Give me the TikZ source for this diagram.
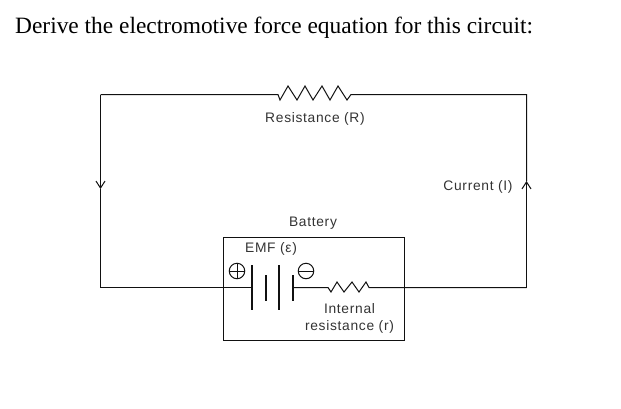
\documentclass[tikz,border=0pt]{standalone}
\usepackage{fontspec}
\setmainfont{Liberation Serif}
\newfontfamily\labelfont[LetterSpace=5]{Liberation Sans}
\usetikzlibrary{arrows.meta,positioning}
\definecolor{wirecol}{HTML}{111111}
\definecolor{textmain}{HTML}{333333}
\begin{document}
\begin{tikzpicture}[
  x=1pt, y=-1pt,
  wire/.style={wirecol, line width=1pt},
  plate/.style={wirecol, line width=2.4pt},
  sign/.style={wire, shorten >=1.5pt, shorten <=1.5pt},
  lbl/.style={font=\labelfont\fontsize{13.8}{16}\selectfont, text=textmain, align=center, inner sep=0pt},
  flow/.style={wire, -{Straight Barb[length=7pt,width=9pt,line width=1pt]}},
]
\useasboundingbox (0, 0) rectangle (621, 408);

% Question
\node[font=\fontsize{23.4}{28}\selectfont, anchor=west, inner sep=0pt] (question) at (15, 27.5) {Derive the electromotive force equation for this circuit:};

% Outer corners
\coordinate (tl) at (100.5, 94.5);
\coordinate (tr) at (526.5, 94.5);
\coordinate (bl) at (100.5, 287.5);
\coordinate (br) at (526.5, 287.5);
\coordinate (larrow) at (100.5, 189);
\coordinate (rarrow) at (526.5, 181);

% Top resistor
\coordinate (rin) at (278, 94.5);
\coordinate (rout) at (351, 94.5);
\draw[wire] (larrow) -- (bl);
\draw[wire] (rarrow) -- (tr) -- (rout) -- (347, 100) -- (338, 86) -- (330, 100) -- (322, 86) -- (313, 100) -- (305, 86) -- (297, 100) -- (288, 86) -- (280, 100) -- (rin) -- (tl);

% Current arrows
\draw[flow] (tl) -- (larrow);
\draw[flow] (br) -- (rarrow);

% Battery box
\node[draw=wirecol, line width=1pt, minimum width=181pt, minimum height=103pt, inner sep=0pt] (battery) at (313.5, 288.5) {};

% Cells
\coordinate (p1) at (252, 287.5);
\coordinate (p2) at (293, 287.5);
\draw[plate] (252, 265) -- (252, 310);
\draw[plate] (266, 275) -- (266, 301);
\draw[plate] (279, 265) -- (279, 310);
\draw[plate] (293, 275) -- (293, 301);

% Internal resistor and wires
\coordinate (iin) at (328, 287.5);
\coordinate (iout) at (369, 287.5);
\draw[wire] (bl) -- (p1);
\draw[wire] (p2) -- (iin) -- (331, 292) -- (337, 282) -- (344, 292) -- (352, 282) -- (359, 292) -- (366, 282) -- (iout) -- (br);

% Terminals
\node[draw=wirecol, line width=1pt, circle, minimum size=15.5pt, inner sep=0pt] (plus) at (237, 271) {};
\node[draw=wirecol, line width=1pt, circle, minimum size=15.5pt, inner sep=0pt] (minus) at (306, 271) {};
\draw[sign] (plus.west) -- (plus.east);
\draw[sign] (plus.north) -- (plus.south);
\draw[sign] (minus.west) -- (minus.east);

% Labels
\node[lbl] (lblr) at (315, 118.5) {Resistance (R)};
\node[lbl] (lblcur) at (478, 187) {Current (I)};
\node[lbl] (lblbat) at (313, 223.5) {Battery};
\node[lbl] (lblemf) at (271, 248.5) {EMF (ε)};
\node[lbl] (lblint) at (349.5, 318.5) {Internal\\[1pt]resistance (r)};
\end{tikzpicture}
\end{document}
